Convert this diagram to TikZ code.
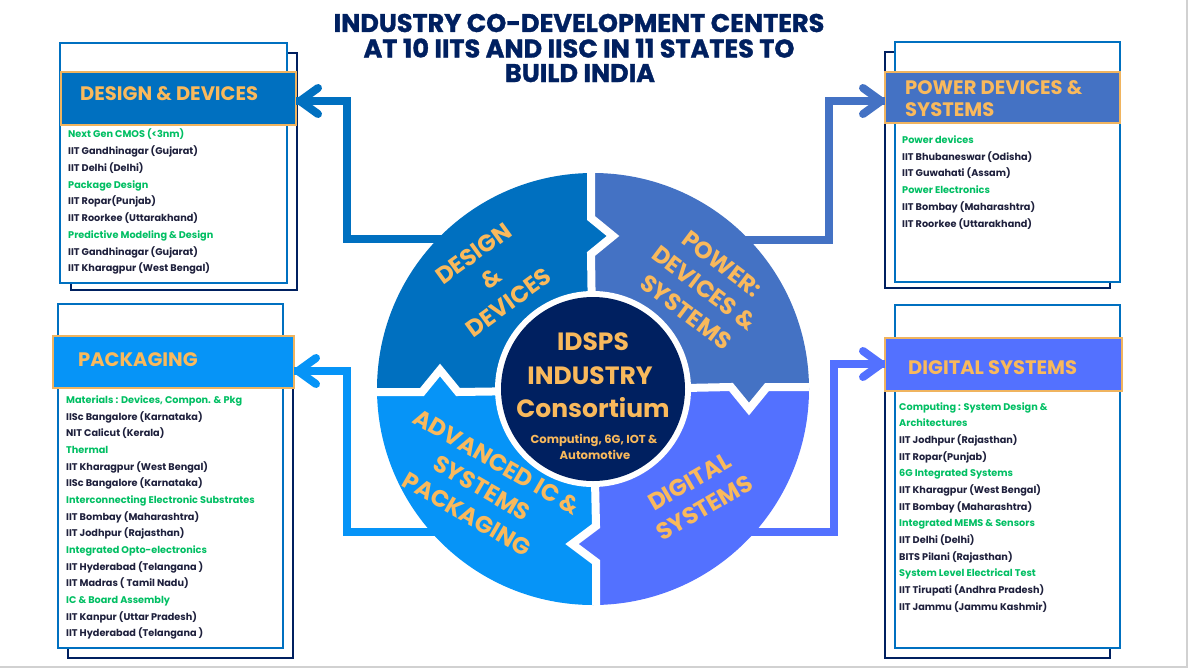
\documentclass[tikz,border=0pt]{standalone}
\usepackage{fontspec}
\setmainfont{Poppins}
\newfontfamily\heavyfont{Poppins}[BoldFeatures={FakeBold=1.2}]
\usetikzlibrary{calc}
\definecolor{cTL}{RGB}{0,112,192}
\definecolor{cTR}{RGB}{68,114,196}
\definecolor{cBL}{RGB}{6,148,247}
\definecolor{cBR}{RGB}{83,113,255}
\definecolor{navy}{RGB}{0,32,96}
\definecolor{orng}{RGB}{249,185,92}
\definecolor{hbord}{RGB}{240,180,95}
\definecolor{lg}{RGB}{0,191,99}
\definecolor{ld}{RGB}{30,32,60}
\begin{document}
\begin{tikzpicture}[x=1pt,y=-1pt,
  backbox/.style={draw=navy, line width=2.2pt, fill=white},
  frontbox/.style={draw=cTL, line width=2.2pt, fill=white},
  hdr/.style={draw=hbord, line width=2pt, anchor=north west, inner sep=0pt, outer sep=0pt},
  hdrtxt/.style={anchor=base west, inner sep=0pt, text=orng, font=\fontsize{19.5}{21}\selectfont\bfseries},
  lst/.style={anchor=base west, inner sep=0pt, font=\fontsize{9.7}{11}\selectfont\bfseries},
  ttl/.style={anchor=base, inner sep=0pt, text=navy, font=\heavyfont\fontsize{25.5}{27}\selectfont\bfseries},
  ctr/.style={anchor=base, inner sep=0pt, text=orng, font=\fontsize{25}{27}\selectfont\bfseries},
  ctrs/.style={anchor=base, inner sep=0pt, text=orng, font=\fontsize{11.6}{12}\selectfont\bfseries},
  quad/.style={align=center, inner sep=0pt, text=orng, font=\fontsize{23.5}{30}\selectfont\bfseries},
  gap/.style={draw=white, line width=8pt},
  conn/.style={line width=8pt},
  chev/.style={line width=8pt, line cap=round, line join=round},
  pageedge/.style={draw=black!18, line width=1.2pt}]
\useasboundingbox (0,0) rectangle (1190,669);
\fill[white] (0,0) rectangle (1190,669);
\draw[pageedge] (1187,0) -- (1187,667) -- (0,667);

% ---------- title ----------
\node[ttl] (t1) at (579,32) {INDUSTRY CO-DEVELOPMENT CENTERS};
\node[ttl] (t2) at (579,57.5) {AT 10 IITS AND IISC IN 11 STATES TO};
\node[ttl] (t3) at (580,82) {BUILD INDIA};

% ---------- boxes ----------
\draw[backbox] (71,53) rectangle (297,290);
\draw[frontbox] (60,43) rectangle (287,283);
\draw[backbox] (885,52) rectangle (1110,288);
\draw[frontbox] (895,42) rectangle (1120,282);
\draw[backbox] (68,345) rectangle (293,658);
\draw[frontbox] (58,304) rectangle (283,648);
\draw[backbox] (885,345) rectangle (1110,658);
\draw[frontbox] (895,305) rectangle (1120,648);

% ---------- headers ----------
\node[hdr, fill=cTL, minimum width=235pt, minimum height=53pt] (hTL) at (61,72) {};
\node[hdr, fill=cTR, minimum width=235pt, minimum height=51pt] (hTR) at (885,72) {};
\node[hdr, fill=cBL, minimum width=241pt, minimum height=52pt] (hBL) at (53,336) {};
\node[hdr, fill=cBR, minimum width=237pt, minimum height=53pt] (hBR) at (885,338) {};
\node[hdrtxt] (hTLt) at (80,100) {DESIGN \& DEVICES};
\node[hdrtxt] (hTRt1) at (905,94) {POWER DEVICES \&};
\node[hdrtxt] (hTRt2) at (905,116) {SYSTEMS};
\node[hdrtxt] (hBLt) at (78,366) {PACKAGING};
\node[hdrtxt] (hBRt) at (908,374) {DIGITAL SYSTEMS};

% ---------- lists ----------
\foreach \c/\t [count=\i from 0] in {g/{Next Gen CMOS (<3nm)}, d/{IIT Gandhinagar (Gujarat)}, d/{IIT Delhi (Delhi)}, g/{Package Design}, d/{IIT Ropar(Punjab)}, d/{IIT Roorkee (Uttarakhand)}, g/{Predictive Modeling \& Design}, d/{IIT Gandhinagar (Gujarat)}, d/{IIT Kharagpur (West Bengal)}}
  \node[lst, text=l\c] (ltl\i) at (68,{137.8+16.75*\i}) {\t};
\foreach \c/\t [count=\i from 0] in {g/{Power devices}, d/{IIT Bhubaneswar (Odisha)}, d/{IIT Guwahati (Assam)}, g/{Power Electronics}, d/{IIT Bombay (Maharashtra)}, d/{IIT Roorkee (Uttarakhand)}}
  \node[lst, text=l\c] (ltr\i) at (902,{143.5+16.7*\i}) {\t};
\foreach \c/\t [count=\i from 0] in {g/{Materials : Devices, Compon. \& Pkg}, d/{IISc Bangalore (Karnataka)}, d/{NIT Calicut (Kerala)}, g/{Thermal}, d/{IIT Kharagpur (West Bengal)}, d/{IISc Bangalore (Karnataka)}, g/{Interconnecting Electronic Substrates}, d/{IIT Bombay (Maharashtra)}, d/{IIT Jodhpur (Rajasthan)}, g/{Integrated Opto-electronics}, d/{IIT Hyderabad (Telangana )}, d/{IIT Madras ( Tamil Nadu)}, g/{IC \& Board Assembly}, d/{IIT Kanpur (Uttar Pradesh)}, d/{IIT Hyderabad (Telangana )}}
  \node[lst, text=l\c] (lbl\i) at (66,{403.5+16.67*\i}) {\t};
\foreach \c/\t [count=\i from 0] in {g/{Computing : System Design \&}, g/{Architectures}, d/{IIT Jodhpur (Rajasthan)}, d/{IIT Ropar(Punjab)}, g/{6G Integrated Systems}, d/{IIT Kharagpur (West Bengal)}, d/{IIT Bombay (Maharashtra)}, g/{Integrated MEMS \& Sensors}, d/{IIT Delhi (Delhi)}, d/{BITS Pilani (Rajasthan)}, g/{System Level Electrical Test}, d/{IIT Tirupati (Andhra Pradesh)}, d/{IIT Jammu (Jammu Kashmir)}}
  \node[lst, text=l\c] (lbr\i) at (899,{410.2+16.67*\i}) {\t};

% ---------- connectors ----------
\coordinate (aTL) at (480,239);
\coordinate (kTL) at (347,101);
\coordinate (aTR) at (710,240);
\coordinate (kTR) at (829,101);
\coordinate (aBL) at (480,532);
\coordinate (kBL) at (347,371);
\coordinate (aBR) at (710,532);
\coordinate (kBR) at (834,364);
\draw[conn, cTL] (aTL) -| (kTL) -- (hTL.east |- kTL) coordinate (eTL);
\draw[conn, cTR] (aTR) -| (kTR) -- (hTR.west |- kTR) coordinate (eTR);
\draw[conn, cBL] (aBL) -| (kBL) -- (hBL.east |- kBL) coordinate (eBL);
\draw[conn, cBR] (aBR) -| (kBR) -- (hBR.west |- kBR) coordinate (eBR);
\draw[chev, cTL] ($(eTL)+(22,-13)$) -- ($(eTL)+(4,0)$) -- ($(eTL)+(22,13)$);
\draw[chev, cTR] ($(eTR)+(-22,-13)$) -- ($(eTR)+(-4,0)$) -- ($(eTR)+(-22,13)$);
\draw[chev, cBL] ($(eBL)+(22,-13)$) -- ($(eBL)+(4,0)$) -- ($(eBL)+(22,13)$);
\draw[chev, cBR] ($(eBR)+(-22,-13)$) -- ($(eBR)+(-4,0)$) -- ($(eBR)+(-22,13)$);

% ---------- cycle ----------
\coordinate (C) at (593,390);
\begin{scope}
  \clip (593,389) circle[radius=216];
  \fill[cTL] (C) -- (591,254) -- (613,236) -- (591,218) -- (591,150) -- (360,150) -- (360,392) -- (422,392) -- (440,370) -- (458,392) -- cycle;
  \fill[cTR] (C) -- (591,254) -- (613,236) -- (591,218) -- (591,150) -- (830,150) -- (830,387) -- (767,387) -- (749,409) -- (731,387) -- cycle;
  \fill[cBR] (C) -- (731,387) -- (749,409) -- (767,387) -- (830,387) -- (830,630) -- (596,630) -- (596,562) -- (572,544) -- (596,526) -- cycle;
  \fill[cBL] (C) -- (596,526) -- (572,544) -- (596,562) -- (596,630) -- (360,630) -- (360,392) -- (422,392) -- (440,370) -- (458,392) -- cycle;
  \draw[gap] (C) -- (591,254) -- (613,236) -- (591,218) -- (591,150);
  \draw[gap] (C) -- (731,387) -- (749,409) -- (767,387) -- (830,387);
  \draw[gap] (C) -- (596,526) -- (572,544) -- (596,562) -- (596,630);
  \draw[gap] (C) -- (458,392) -- (440,370) -- (422,392) -- (360,392);
\end{scope}
\fill[white] (593,389) circle[radius=98];
\fill[navy] (593,389) circle[radius=92];

\node[quad, rotate=36] (qTL) at (491,278) {DESIGN\\\&\\DEVICES};
\node[quad, rotate=-37] (qTR) at (704,288) {POWER:\\DEVICES \&\\SYSTEMS};
\node[quad, rotate=-30] (qBL) at (482,488) {ADVANCED IC \&\\SYSTEMS\\PACKAGING};
\node[quad, rotate=30] (qBR) at (697,495) {DIGITAL\\SYSTEMS};

\node[ctr] (c1) at (593,350) {IDSPS};
\node[ctr] (c2) at (590,384) {INDUSTRY};
\node[ctr] (c3) at (593,417) {Consortium};
\node[ctrs] (c4) at (594,443) {Computing, 6G, IOT \&};
\node[ctrs] (c5) at (595,459) {Automotive};
\end{tikzpicture}
\end{document}
